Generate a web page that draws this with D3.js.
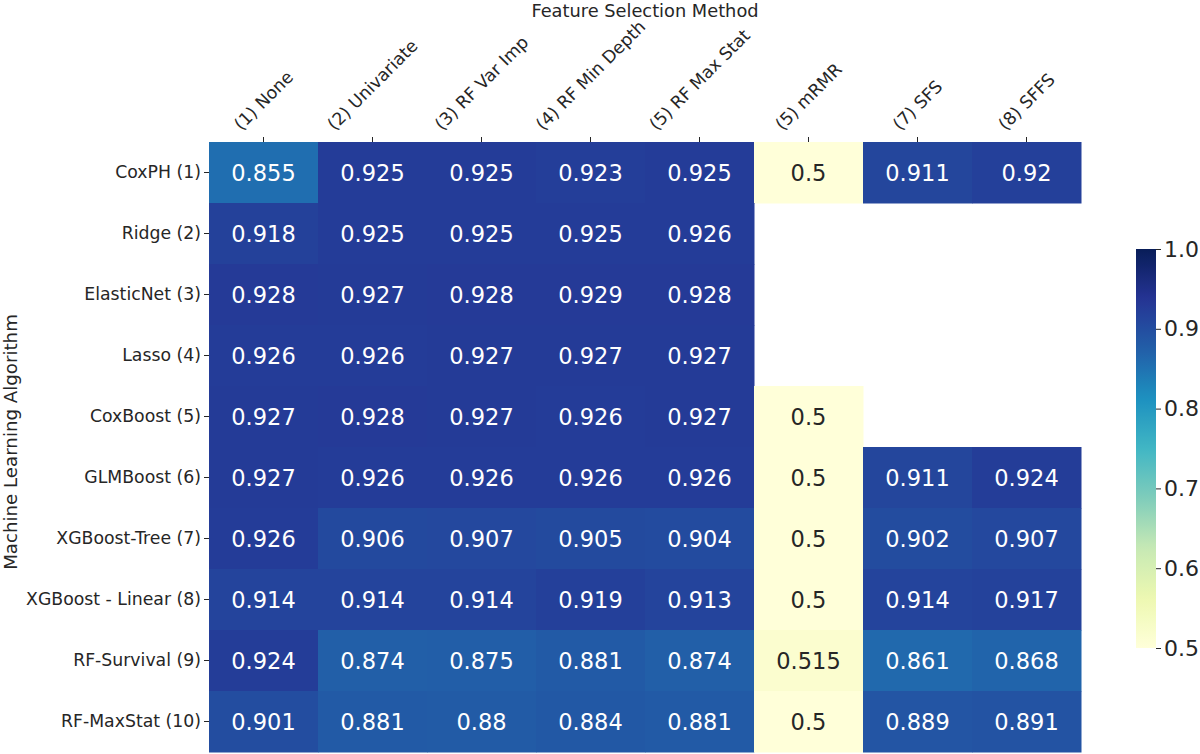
<!DOCTYPE html>
<html><head><meta charset="utf-8">
<script src="https://cdn.jsdelivr.net/npm/d3@7"></script>
<style>body{margin:0;background:#fff}svg{font-family:"DejaVu Sans",sans-serif}</style>
</head><body><svg id="c" width="1200" height="754"></svg>
<script>
const methods = ["(1) None","(2) Univariate","(3) RF Var Imp","(4) RF Min Depth","(5) RF Max Stat","(5) mRMR","(7) SFS","(8) SFFS"];
const algorithms = ["CoxPH (1)","Ridge (2)","ElasticNet (3)","Lasso (4)","CoxBoost (5)","GLMBoost (6)","XGBoost-Tree (7)","XGBoost - Linear (8)","RF-Survival (9)","RF-MaxStat (10)"];
const rowCoxPH      = [0.855,0.925,0.925,0.923,0.925,0.5,0.911,0.92];
const rowRidge      = [0.918,0.925,0.925,0.925,0.926,null,null,null];
const rowElasticNet = [0.928,0.927,0.928,0.929,0.928,null,null,null];
const rowLasso      = [0.926,0.926,0.927,0.927,0.927,null,null,null];
const rowCoxBoost   = [0.927,0.928,0.927,0.926,0.927,0.5,null,null];
const rowGLMBoost   = [0.927,0.926,0.926,0.926,0.926,0.5,0.911,0.924];
const rowXGBTree    = [0.926,0.906,0.907,0.905,0.904,0.5,0.902,0.907];
const rowXGBLinear  = [0.914,0.914,0.914,0.919,0.913,0.5,0.914,0.917];
const rowRFSurvival = [0.924,0.874,0.875,0.881,0.874,0.515,0.861,0.868];
const rowRFMaxStat  = [0.901,0.881,0.88,0.884,0.881,0.5,0.889,0.891];
const values = [rowCoxPH,rowRidge,rowElasticNet,rowLasso,rowCoxBoost,rowGLMBoost,rowXGBTree,rowXGBLinear,rowRFSurvival,rowRFMaxStat];
const cbTicks = [0.5,0.6,0.7,0.8,0.9,1.0];
const ylgnbu = ["#ffffd9","#edf8b1","#c7e9b4","#7fcdbb","#41b6c4","#1d91c0","#225ea8","#253494","#081d58"];

const vmin = 0.5, vmax = 1.0;
const color = d3.scaleLinear()
  .domain(ylgnbu.map((_, i) => vmin + (vmax - vmin) * i / (ylgnbu.length - 1)))
  .range(ylgnbu).interpolate(d3.interpolateRgb).clamp(true);

const svg = d3.select("#c");
const L = 209, R = 1081, T = 142, B = 752;
const x = d3.scaleBand().domain(methods).range([L, R]);
const y = d3.scaleBand().domain(algorithms).range([T, B]);
const txt = "#262626";

const cells = [];
values.forEach((row, i) => row.forEach((v, j) => { if (v !== null) cells.push({r: algorithms[i], c: methods[j], v}); }));

svg.append("g").selectAll("rect").data(cells).join("rect")
  .attr("x", d => x(d.c)).attr("y", d => y(d.r))
  .attr("width", x.bandwidth() + 0.5).attr("height", y.bandwidth() + 0.5)
  .attr("fill", d => color(d.v));

function lum(c) {
  const rgb = d3.rgb(c);
  const f = v => { v /= 255; return v <= 0.03928 ? v / 12.92 : Math.pow((v + 0.055) / 1.055, 2.4); };
  return 0.2126 * f(rgb.r) + 0.7152 * f(rgb.g) + 0.0722 * f(rgb.b);
}
svg.append("g").selectAll("text").data(cells).join("text")
  .attr("x", d => x(d.c) + x.bandwidth() / 2).attr("y", d => y(d.r) + y.bandwidth() / 2)
  .attr("text-anchor", "middle").attr("dominant-baseline", "central")
  .attr("font-size", 22.5)
  .attr("fill", d => lum(color(d.v)) > 0.408 ? txt : "#fff")
  .text(d => String(d.v));

// y axis
const ya = svg.append("g").attr("transform", `translate(${L},0)`)
  .call(d3.axisLeft(y).tickSize(5).tickPadding(3));
ya.select(".domain").remove();
ya.selectAll("line").attr("stroke", txt);
ya.selectAll("text").attr("font-size", 17.3).attr("fill", txt).attr("font-family", "DejaVu Sans");

// x axis top
const xa = svg.append("g").attr("transform", `translate(0,${T})`)
  .call(d3.axisTop(x).tickSize(5));
xa.select(".domain").remove();
xa.selectAll("line").attr("stroke", txt);
xa.selectAll("text").remove();
const xl = svg.append("g");
methods.forEach(m => {
  const t = xl.append("text").attr("font-size", 17.3).attr("fill", txt)
    .attr("text-anchor", "middle").attr("dominant-baseline", "central").text(m);
  const len = t.node().getComputedTextLength();
  const h = (len + 17) * Math.SQRT1_2;
  const cx = x(m) + x.bandwidth() / 2, cy = 133 - h / 2;
  t.attr("x", cx).attr("y", cy).attr("transform", `rotate(-45,${cx},${cy})`);
});

svg.append("text").attr("x", (L + R) / 2).attr("y", 10).attr("text-anchor", "middle")
  .attr("dominant-baseline", "central").attr("font-size", 17.8).attr("fill", txt).text("Feature Selection Method");
svg.append("text").attr("transform", `translate(10,442) rotate(-90)`).attr("text-anchor", "middle")
  .attr("dominant-baseline", "central").attr("font-size", 18.2).attr("fill", txt).text("Machine Learning Algorithm");

// colorbar
const cbX = 1136, cbW = 20, cbT = 249, cbB = 648;
const cy2 = d3.scaleLinear().domain([vmin, vmax]).range([cbB, cbT]);
const defs = svg.append("defs");
const grad = defs.append("linearGradient").attr("id", "g").attr("x1", 0).attr("y1", 1).attr("x2", 0).attr("y2", 0);
d3.range(0, 1.0001, 0.02).forEach(t => grad.append("stop").attr("offset", t).attr("stop-color", color(vmin + t * (vmax - vmin))));
svg.append("rect").attr("x", cbX).attr("y", cbT).attr("width", cbW).attr("height", cbB - cbT).attr("fill", "url(#g)");
const ca = svg.append("g").attr("transform", `translate(${cbX + cbW},0)`)
  .call(d3.axisRight(cy2).tickValues(cbTicks).tickFormat(d3.format(".1f")).tickSize(5).tickPadding(3));
ca.select(".domain").remove();
ca.selectAll("line").attr("stroke", txt);
ca.selectAll("text").attr("font-size", 22).attr("fill", txt).attr("font-family", "DejaVu Sans");
</script></body></html>
